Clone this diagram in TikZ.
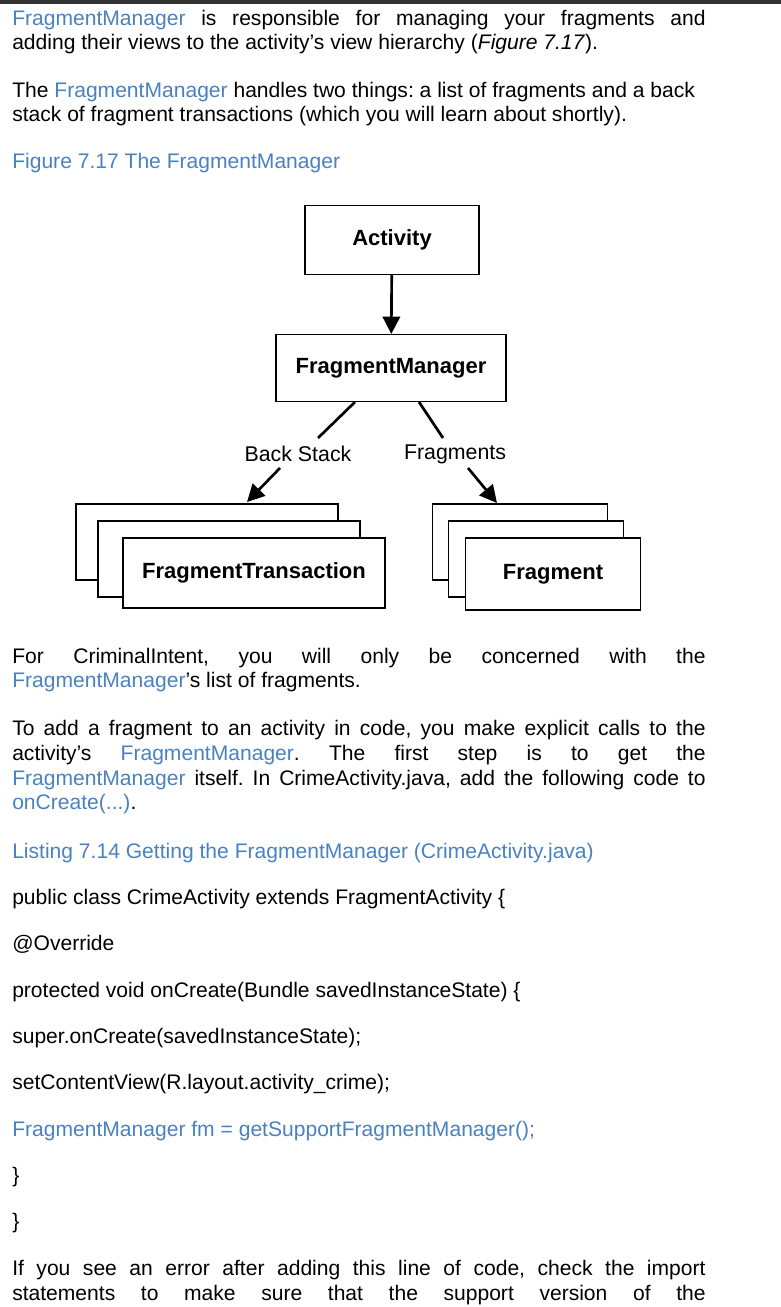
\documentclass[tikz,border=0pt]{standalone}
\usepackage{fontspec}
\setmainfont{Liberation Sans}
\usetikzlibrary{arrows.meta}
\frenchspacing
\definecolor{linkblue}{HTML}{4A82C0}
\newcommand{\fm}{\textcolor{linkblue}{FragmentManager}}
\newcommand{\just}[1]{\makebox[520pt][s]{#1}}
\tikzset{
  txt/.style={anchor=base west,inner sep=0pt,font=\fontsize{15.8}{18}\selectfont},
  heading/.style={txt,text=linkblue},
  box/.style={draw,thick,fill=white,minimum height=#1,inner sep=0pt},
  lbl/.style={font=\fontsize{16.5}{19}\selectfont\bfseries},
  link/.style={line width=2pt},
  tip/.style={link,-{Triangle[length=13pt,width=13pt]}}
}
\begin{document}
\begin{tikzpicture}[x=0.75pt,y=-0.75pt]
  \useasboundingbox[fill=white] (0,0) rectangle (781,1307);
  \fill[black!80] (0,0) rectangle (781,4);
  % Text above the figure
  \node[txt] (p1a) at (12,25) {\just{\fm{} is responsible for managing your fragments and}};
  \node[txt] (p1b) at (12,49) {adding their views to the activity’s view hierarchy (\textit{Figure 7.17}).};
  \node[txt] (p2a) at (12,97) {The \fm{} handles two things: a list of fragments and a back};
  \node[txt] (p2b) at (12,121) {stack of fragment transactions (which you will learn about shortly).};
  \node[heading] (fig) at (12,168) {Figure 7.17 The FragmentManager};
  % The figure
  \node[box=51.75pt,minimum width=130.5pt,lbl] (act) at (392,240) {Activity};
  \node[box=50.25pt,minimum width=172.5pt,lbl] (mgr) at (391,368) {FragmentManager};
  \draw[tip] (act) -- (mgr);
  \node[font=\fontsize{16}{19}\selectfont] (bs) at (298,454) {Back Stack};
  \node[font=\fontsize{16}{19}\selectfont] (fr) at (455,454) {Fragments};
  \coordinate (mgrL) at (355,402); \coordinate (bsT) at (318,438);
  \coordinate (mgrR) at (419,402); \coordinate (frT) at (443,438);
  \coordinate (bsB) at (280,468); \coordinate (tr) at (247,502);
  \coordinate (frB) at (468,468); \coordinate (fg) at (497,503);
  \draw[link] (mgrL) -- (bsT);
  \draw[link] (mgrR) -- (frT);
  \draw[tip] (bsB) -- (tr);
  \draw[tip] (frB) -- (fg);
  \node[box=57pt,minimum width=196.5pt] (t1) at (207,542) {};
  \node[box=57pt,minimum width=196.5pt] (t2) at (229,559) {};
  \node[box=52.5pt,minimum width=196.5pt,lbl] (t3) at (254,573) {FragmentTransaction};
  \node[box=57pt,minimum width=131.25pt] (f1) at (520,542) {};
  \node[box=57pt,minimum width=131.25pt] (f2) at (536,559) {};
  \node[box=54pt,minimum width=131.25pt,lbl] (f3) at (553,574) {Fragment};
  % Text below the figure
  \node[txt] (p3a) at (12,663) {\just{For CriminalIntent, you will only be concerned with the}};
  \node[txt] (p3b) at (12,687) {\fm’s list of fragments.};
  \node[txt] (p4a) at (12,735) {\just{To add a fragment to an activity in code, you make explicit calls to the}};
  \node[txt] (p4b) at (12,760) {\just{activity’s \fm. The first step is to get the}};
  \node[txt] (p4c) at (12,785) {\just{\fm{} itself. In CrimeActivity.java, add the following code to}};
  \node[txt] (p4d) at (12,809) {\textcolor{linkblue}{onCreate(...)}.};
  \node[heading] (lst) at (12,858) {Listing 7.14 Getting the FragmentManager (CrimeActivity.java)};
  \node[txt] (c1) at (12,904) {public class CrimeActivity extends FragmentActivity \{};
  \node[txt] (c2) at (12,950) {@Override};
  \node[txt] (c3) at (12,997) {protected void onCreate(Bundle savedInstanceState) \{};
  \node[txt] (c4) at (12,1043) {super.onCreate(savedInstanceState);};
  \node[txt] (c5) at (12,1089) {setContentView(R.layout.activity\_crime);};
  \node[heading] (c6) at (12,1136) {FragmentManager fm = getSupportFragmentManager();};
  \node[txt] (c7) at (12,1182) {\}};
  \node[txt] (c8) at (12,1228) {\}};
  \node[txt] (p5a) at (12,1275) {\just{If you see an error after adding this line of code, check the import}};
  \node[txt] (p5b) at (12,1300) {\just{statements to make sure that the support version of the}};
\end{tikzpicture}
\end{document}
